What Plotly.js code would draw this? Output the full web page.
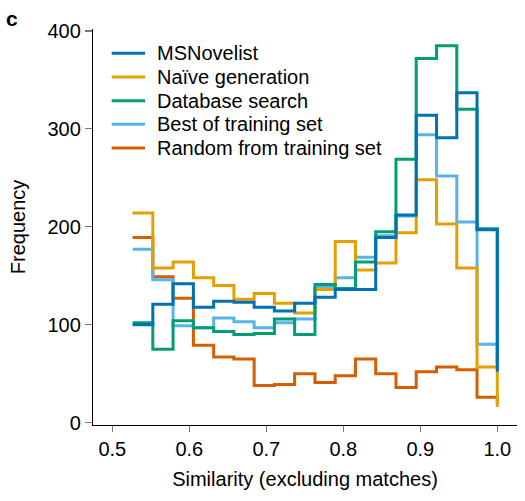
<!DOCTYPE html>
<html>
<head>
<meta charset="utf-8">
<script src="https://cdn.plot.ly/plotly-3.0.1.min.js"></script>
<style>html,body{margin:0;padding:0;background:#fff;}#chart{width:525px;height:501px;}</style>
</head>
<body>
<div id="chart"></div>
<script>
// Left edges of the histogram bins (plus the closing edge at 1.0)
const binEdges = [0.5263, 0.5526, 0.5789, 0.6053, 0.6316, 0.6579, 0.6842, 0.7105, 0.7368,
                  0.7632, 0.7895, 0.8158, 0.8421, 0.8684, 0.8947, 0.9211, 0.9474, 0.9737, 1.0];

const seriesNames = ["MSNovelist", "Naïve generation", "Database search", "Best of training set", "Random from training set"];

const msnovelist   = [100, 121, 142, 118, 124, 123, 118, 114, 122, 128, 136, 136, 189, 212, 314, 291, 337, 197, 52];
const naive        = [214, 158, 164, 148, 140, 126, 132, 122, 112, 136, 185, 156, 163, 194, 248, 203, 158, 57, 16];
const database     = [102, 75, 104, 97, 93, 90, 91, 106, 90, 141, 137, 164, 195, 269, 372, 385, 320, 198, 60];
const bestTraining = [177, 146, 99, 97, 107, 103, 97, 102, 106, 138, 148, 169, 191, 211, 294, 252, 205, 80, 60];
const randomTrain  = [189, 149, 127, 79, 67, 65, 38, 39, 50, 41, 48, 65, 50, 36, 52, 57, 54, 26, 20];

const xTicks = [0.5, 0.6, 0.7, 0.8, 0.9, 1.0];
const yTicks = [0, 100, 200, 300, 400];

const colors = ["#0072B2", "#E69F00", "#009E73", "#56B4E9", "#D55E00"];
const allSeries = [msnovelist, naive, database, bestTraining, randomTrain];
// draw order bottom -> top
const drawOrder = [4, 3, 1, 2, 0];

const font = "Liberation Sans, Arial, Helvetica, sans-serif";

const traces = drawOrder.map(i => ({
  type: "scatter",
  mode: "lines",
  x: binEdges,
  y: allSeries[i],
  name: seriesNames[i],
  showlegend: false,
  line: {color: colors[i], width: 3, shape: "hv"},
  hoverinfo: "skip"
}));

// legend drawn in paper coordinates
const legX0 = 0.0441, legX1 = 0.1226, legTextX = 0.1462;
const legTop = 0.9386, legStep = 0.0598;
const shapes = [];
const annotations = [];
seriesNames.forEach((name, i) => {
  const yy = legTop - i * legStep;
  shapes.push({type: "line", xref: "paper", yref: "paper", x0: legX0, x1: legX1, y0: yy, y1: yy,
               line: {color: colors[i], width: 3}});
  annotations.push({text: name, xref: "paper", yref: "paper", x: legTextX, y: yy,
                    xanchor: "left", yanchor: "middle", showarrow: false,
                    font: {family: font, size: 20, color: "#000"}});
});
annotations.push({
  text: "<b>c</b>", xref: "paper", yref: "paper", x: -0.21, y: 1.06,
  xanchor: "left", yanchor: "top", showarrow: false,
  font: {family: font, size: 21, color: "#000"}
});

const layout = {
  width: 525, height: 501,
  margin: {l: 93, r: 8, t: 29, b: 76},
  paper_bgcolor: "#fff", plot_bgcolor: "#fff",
  font: {family: font, size: 20, color: "#000"},
  showlegend: false,
  xaxis: {
    range: [0.4749, 1.0256],
    tickvals: xTicks, tickformat: ".1f",
    showgrid: false, zeroline: false,
    showline: true, linecolor: "#000", linewidth: 1.2,
    ticks: "outside", ticklen: 6, tickwidth: 1.2, tickcolor: "#777",
    tickfont: {family: font, size: 20, color: "#000"},
    title: {text: "Similarity (excluding matches)", font: {family: font, size: 20, color: "#000"}, standoff: 12}
  },
  yaxis: {
    range: [-2.35, 402],
    tickvals: yTicks,
    showgrid: false, zeroline: false,
    showline: true, linecolor: "#000", linewidth: 1.2,
    ticks: "outside", ticklen: 7, tickwidth: 1.2, tickcolor: "#777",
    tickfont: {family: font, size: 20, color: "#000"},
    title: {text: "Frequency", font: {family: font, size: 20, color: "#000"}, standoff: 16}
  },
  shapes: shapes,
  annotations: annotations
};

Plotly.newPlot("chart", traces, layout, {displayModeBar: false, staticPlot: true});
</script>
</body>
</html>
